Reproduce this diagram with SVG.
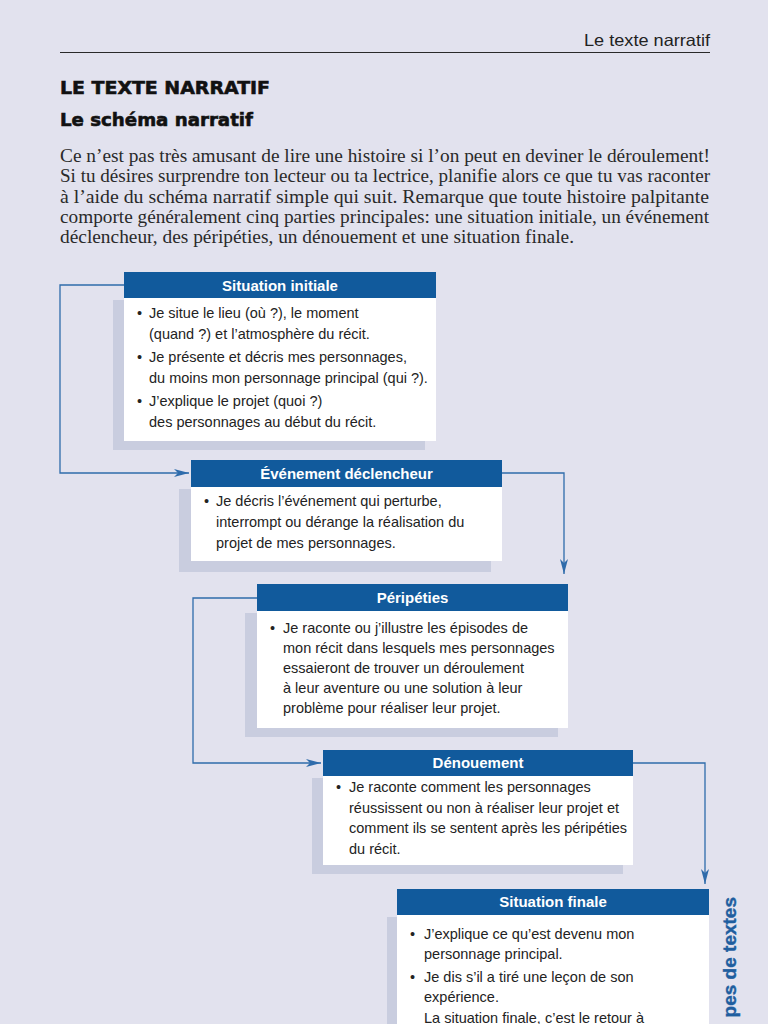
<svg xmlns="http://www.w3.org/2000/svg" width="768" height="1024" viewBox="0 0 768 1024">
<defs>
<style>
.bg{fill:#e2e2ee}
.hdr{fill:#115a9c}
.body{fill:#ffffff}
.shadow{fill:#c9cddf}
.ht{font-family:"Liberation Sans",Arial,sans-serif;font-weight:bold;font-size:15px;fill:#ffffff;text-anchor:middle}
.bt{font-family:"Liberation Sans",Arial,sans-serif;font-size:14.5px;fill:#232323}
.para{font-family:"Liberation Serif","Times New Roman",serif;font-size:19px;fill:#2a2a2a}
.h1{font-family:"DejaVu Sans",sans-serif;font-weight:bold;font-size:18px;fill:#111;stroke:#111;stroke-width:0.6}
.conn{fill:none;stroke:#2f6cab;stroke-width:1.3}
</style>
<marker id="ah" markerUnits="userSpaceOnUse" markerWidth="16" markerHeight="10" refX="15" refY="5" orient="auto">
<path d="M0,1 L15,5 L0,9 L4,5 z" fill="#2f6cab"/>
</marker>
</defs>
<rect class="bg" x="0" y="0" width="768" height="1024"/>

<g id="page-header">
<text x="710" y="46" text-anchor="end" textLength="126" lengthAdjust="spacingAndGlyphs" font-family="Liberation Sans, Arial, sans-serif" font-size="16.5" fill="#222">Le texte narratif</text>
<line x1="60" y1="52.5" x2="710" y2="52.5" stroke="#2a2a2a" stroke-width="1.2"/>
<text class="h1" x="60" y="94" textLength="210" lengthAdjust="spacingAndGlyphs">LE TEXTE NARRATIF</text>
<text class="h1" x="60" y="126" textLength="193" lengthAdjust="spacingAndGlyphs">Le schéma narratif</text>
</g>

<g id="intro">
<text class="para" x="60" y="162" textLength="650" lengthAdjust="spacingAndGlyphs">Ce n’est pas très amusant de lire une histoire si l’on peut en deviner le déroulement!</text>
<text class="para" x="60" y="182" textLength="650" lengthAdjust="spacingAndGlyphs">Si tu désires surprendre ton lecteur ou ta lectrice, planifie alors ce que tu vas raconter</text>
<text class="para" x="60" y="203" textLength="649" lengthAdjust="spacingAndGlyphs">à l’aide du schéma narratif simple qui suit. Remarque que toute histoire palpitante</text>
<text class="para" x="60" y="223" textLength="649" lengthAdjust="spacingAndGlyphs">comporte généralement cinq parties principales: une situation initiale, un événement</text>
<text class="para" x="60" y="243" textLength="514" lengthAdjust="spacingAndGlyphs">déclencheur, des péripéties, un dénouement et une situation finale.</text>
</g>

<g id="connectors">
<path class="conn" d="M124,285 H60 V473 H189" marker-end="url(#ah)"/>
<path class="conn" d="M502,473 H564 V574" marker-end="url(#ah)"/>
<path class="conn" d="M257,598 H193 V763 H321" marker-end="url(#ah)"/>
<path class="conn" d="M633,763 H705 V884" marker-end="url(#ah)"/>
</g>

<g id="situation-initiale">
<rect class="shadow" x="113" y="300" width="312" height="150"/>
<rect class="body" x="124" y="298" width="312" height="143"/>
<rect class="hdr" x="124" y="272" width="312" height="26"/>
<text class="ht" x="280" y="291">Situation initiale</text>
<text class="bt" x="137" y="318">•</text>
<text class="bt" x="149" y="318">Je situe le lieu (où ?), le moment</text>
<text class="bt" x="149" y="339">(quand ?) et l’atmosphère du récit.</text>
<text class="bt" x="137" y="362">•</text>
<text class="bt" x="149" y="362">Je présente et décris mes personnages,</text>
<text class="bt" x="149" y="383">du moins mon personnage principal (qui ?).</text>
<text class="bt" x="137" y="406">•</text>
<text class="bt" x="149" y="406">J’explique le projet (quoi ?)</text>
<text class="bt" x="149" y="427">des personnages au début du récit.</text>
</g>

<g id="evenement-declencheur">
<rect class="shadow" x="179" y="489" width="312" height="83"/>
<rect class="body" x="191" y="487" width="311" height="74"/>
<rect class="hdr" x="191" y="460" width="311" height="27"/>
<text class="ht" x="346.5" y="479">Événement déclencheur</text>
<text class="bt" x="204" y="506">•</text>
<text class="bt" x="216" y="506">Je décris l’événement qui perturbe,</text>
<text class="bt" x="216" y="527">interrompt ou dérange la réalisation du</text>
<text class="bt" x="216" y="548">projet de mes personnages.</text>
</g>

<g id="peripeties">
<rect class="shadow" x="245" y="613" width="313" height="124"/>
<rect class="body" x="257" y="611" width="311" height="117"/>
<rect class="hdr" x="257" y="584" width="311" height="27"/>
<text class="ht" x="412.5" y="603">Péripéties</text>
<text class="bt" x="270" y="633">•</text>
<text class="bt" x="283" y="633">Je raconte ou j’illustre les épisodes de</text>
<text class="bt" x="283" y="653">mon récit dans lesquels mes personnages</text>
<text class="bt" x="283" y="673">essaieront de trouver un déroulement</text>
<text class="bt" x="283" y="693">à leur aventure ou une solution à leur</text>
<text class="bt" x="283" y="713">problème pour réaliser leur projet.</text>
</g>

<g id="denouement">
<rect class="shadow" x="312" y="778" width="311" height="96"/>
<rect class="body" x="323" y="776" width="310" height="89"/>
<rect class="hdr" x="323" y="750" width="310" height="26"/>
<text class="ht" x="478" y="768">Dénouement</text>
<text class="bt" x="336" y="792">•</text>
<text class="bt" x="349" y="792">Je raconte comment les personnages</text>
<text class="bt" x="349" y="813">réussissent ou non à réaliser leur projet et</text>
<text class="bt" x="349" y="833">comment ils se sentent après les péripéties</text>
<text class="bt" x="349" y="854">du récit.</text>
</g>

<g id="situation-finale">
<rect class="shadow" x="387" y="917" width="312" height="120"/>
<rect class="body" x="397" y="915" width="312" height="120"/>
<rect class="hdr" x="397" y="889" width="312" height="26"/>
<text class="ht" x="553" y="907">Situation finale</text>
<text class="bt" x="410" y="939">•</text>
<text class="bt" x="424" y="939">J’explique ce qu’est devenu mon</text>
<text class="bt" x="424" y="959">personnage principal.</text>
<text class="bt" x="410" y="982">•</text>
<text class="bt" x="424" y="982">Je dis s’il a tiré une leçon de son</text>
<text class="bt" x="424" y="1002">expérience.</text>
<text class="bt" x="424" y="1023">La situation finale, c’est le retour à</text>
</g>

<g id="side-tab">
<text x="736" y="897" transform="rotate(-90 736 897)" text-anchor="end" font-family="Liberation Sans, Arial, sans-serif" font-weight="bold" font-size="19" fill="#1f5e9f" stroke="#1f5e9f" stroke-width="0.4">pes de textes</text>
</g>
</svg>
